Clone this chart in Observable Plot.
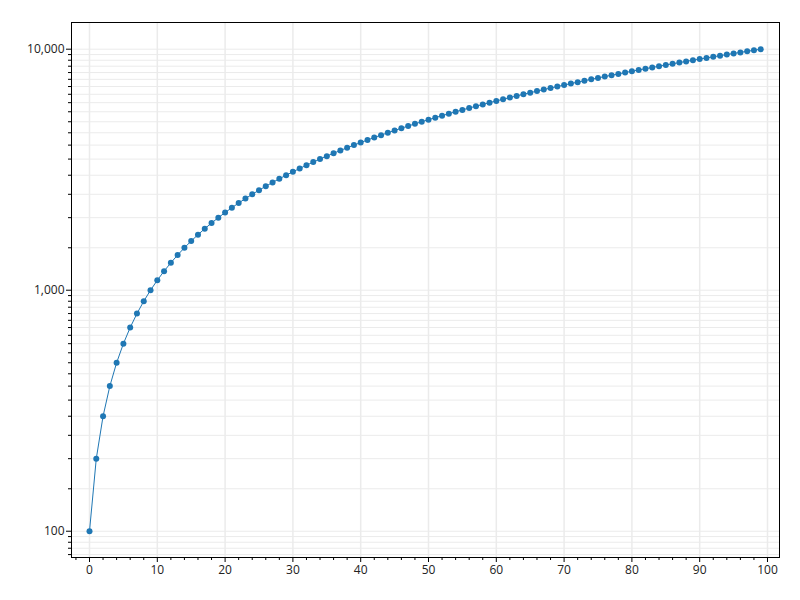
<!DOCTYPE html>
<html>
<head>
<meta charset="utf-8">
<script src="https://cdn.jsdelivr.net/npm/d3@7"></script>
<script src="https://cdn.jsdelivr.net/npm/@observablehq/plot@0.6"></script>
<style>
html, body { margin: 0; padding: 0; background: #fff; }
#chart svg { display: block; }
</style>
</head>
<body>
<div id="chart"></div>
<script>
const xValues = [0,1,2,3,4,5,6,7,8,9,10,11,12,13,14,15,16,17,18,19,20,21,22,23,24,25,26,27,28,29,30,31,32,33,34,35,36,37,38,39,40,41,42,43,44,45,46,47,48,49,50,51,52,53,54,55,56,57,58,59,60,61,62,63,64,65,66,67,68,69,70,71,72,73,74,75,76,77,78,79,80,81,82,83,84,85,86,87,88,89,90,91,92,93,94,95,96,97,98,99];
const yValues = [100,200,300,400,500,600,700,800,900,1000,1100,1200,1300,1400,1500,1600,1700,1800,1900,2000,2100,2200,2300,2400,2500,2600,2700,2800,2900,3000,3100,3200,3300,3400,3500,3600,3700,3800,3900,4000,4100,4200,4300,4400,4500,4600,4700,4800,4900,5000,5100,5200,5300,5400,5500,5600,5700,5800,5900,6000,6100,6200,6300,6400,6500,6600,6700,6800,6900,7000,7100,7200,7300,7400,7500,7600,7700,7800,7900,8000,8100,8200,8300,8400,8500,8600,8700,8800,8900,9000,9100,9200,9300,9400,9500,9600,9700,9800,9900,10000];
const xMajorTicks = [0,10,20,30,40,50,60,70,80,90,100];
const yMajorTicks = [100,1000,10000];

const data = xValues.map((x, i) => ({x, y: yValues[i]}));

const xMinorTicks = d3.range(-2, 101, 2).filter(v => v % 10 !== 0);
const yMinorTicks = [
  ...d3.range(80, 100, 5),
  ...d3.range(150, 1000, 50),
  ...d3.range(1500, 10000, 500)
];
const yGridTicks = [...yMinorTicks, ...yMajorTicks];

const color = "#1f77b4";
const gridColor = "#ebebeb";

const chart = Plot.plot({
  width: 800,
  height: 600,
  marginLeft: 71,
  marginRight: 21,
  marginTop: 22,
  marginBottom: 43,
  style: {fontFamily: "'Open Sans', 'DejaVu Sans', sans-serif", fontSize: "12px", color: "#222", background: "#fff"},
  x: {domain: [-2.655, 101.77]},
  y: {type: "log", domain: [77.8, 12906]},
  marks: [
    Plot.gridY(yGridTicks, {stroke: gridColor, strokeOpacity: 1, strokeWidth: 1}),
    Plot.gridX(xMajorTicks, {stroke: gridColor, strokeOpacity: 1, strokeWidth: 1.5}),
    Plot.axisY(yMajorTicks, {tickFormat: d3.format(","), tickSize: 5, tickPadding: 2, label: null, stroke: "#000"}),
    Plot.axisY(yMinorTicks, {tickFormat: () => "", tickSize: 3, label: null, stroke: "#000"}),
    Plot.axisX(xMajorTicks, {tickFormat: d => String(d), tickSize: 5, tickPadding: 3, label: null, stroke: "#000"}),
    Plot.axisX(xMinorTicks, {tickFormat: () => "", tickSize: 3, label: null, stroke: "#000"}),
    Plot.frame({stroke: "#000", strokeWidth: 1}),
    Plot.line(data, {x: "x", y: "y", stroke: color, strokeWidth: 1}),
    Plot.dot(data, {x: "x", y: "y", r: 3, fill: color, stroke: "none"})
  ]
});
document.getElementById("chart").appendChild(chart);
</script>
</body>
</html>
